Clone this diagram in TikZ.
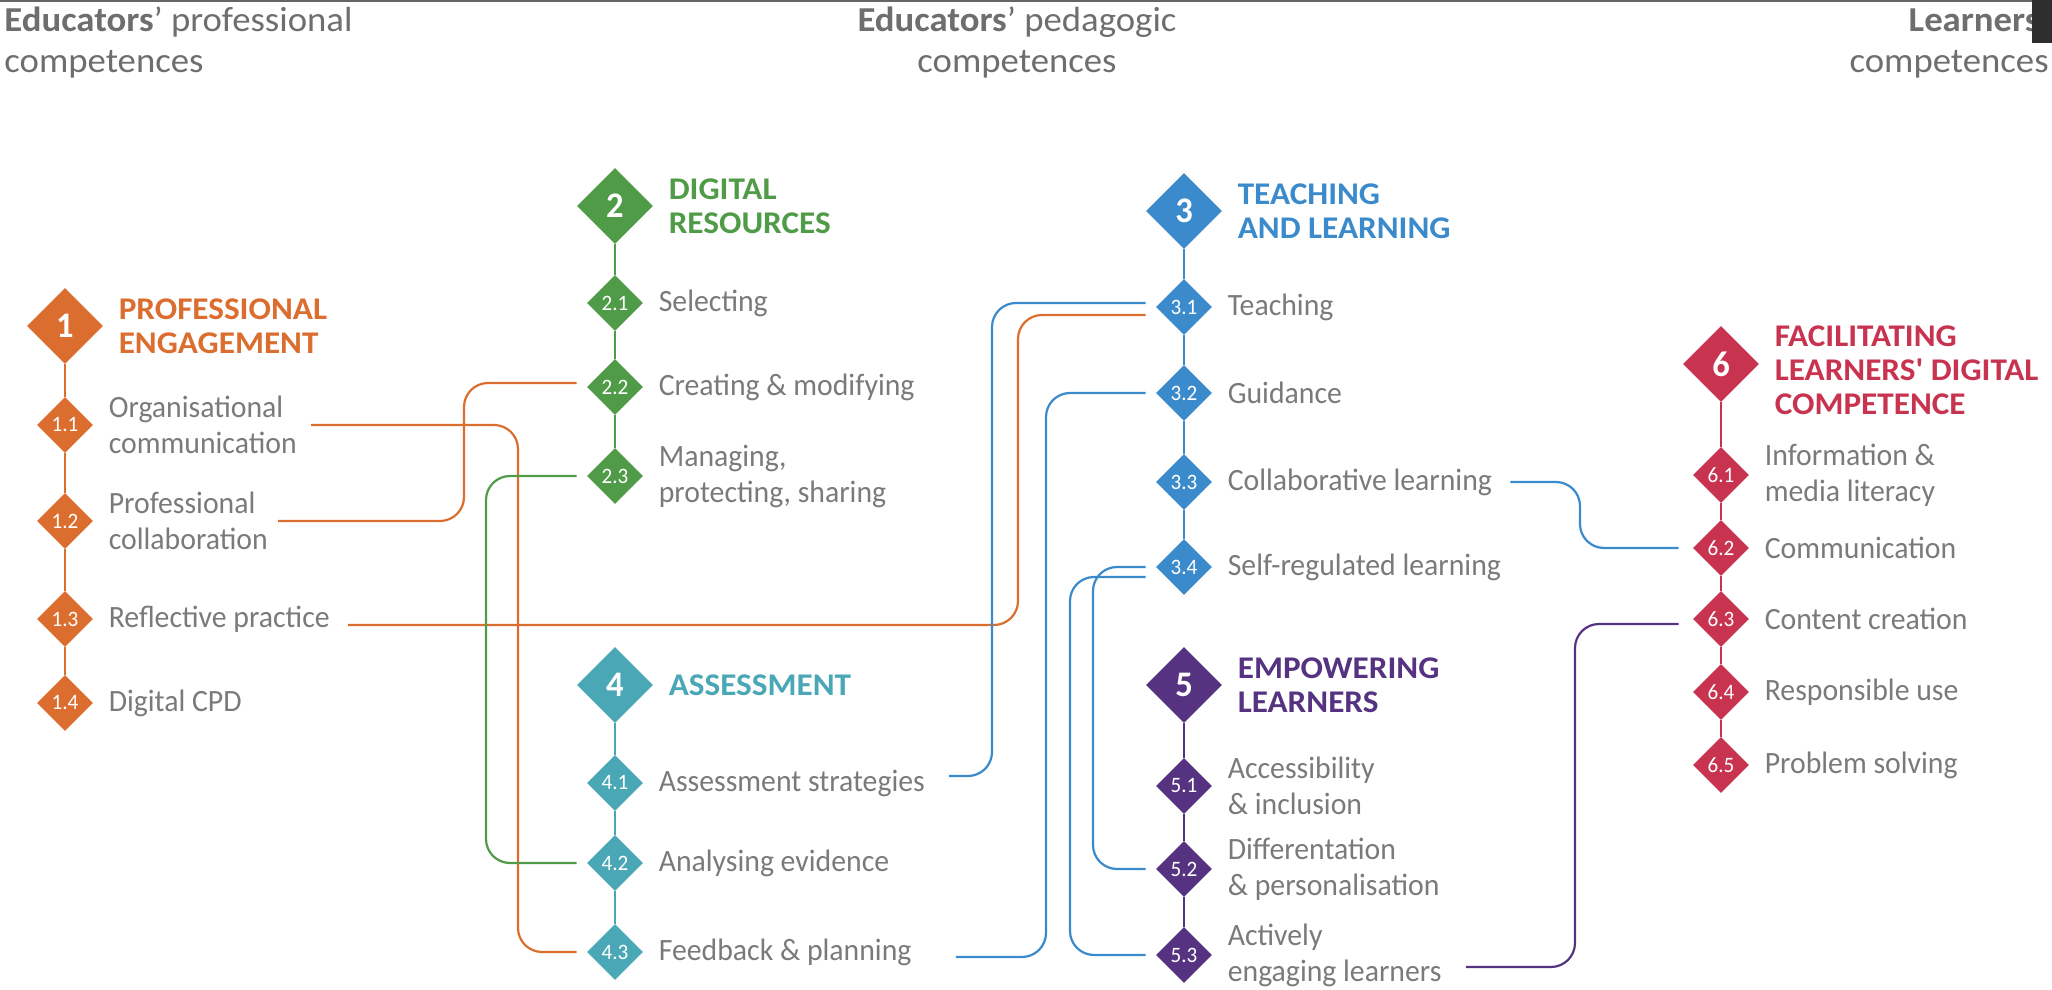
\documentclass[tikz,border=0pt]{standalone}
\usepackage{fontspec}
\setmainfont{Carlito}[FakeStretch=0.96]
\newfontfamily\widefont{Carlito}[FakeStretch=1.05]
\usetikzlibrary{positioning,shapes.geometric}
\definecolor{engage}{HTML}{DB6E2F}
\definecolor{resource}{HTML}{4F9B48}
\definecolor{teach}{HTML}{3B8ACB}
\definecolor{assess}{HTML}{4AA7B5}
\definecolor{empower}{HTML}{563381}
\definecolor{facil}{HTML}{C8334F}
\definecolor{txtgray}{HTML}{7A7A7A}
\definecolor{headgray}{HTML}{6E6E6E}
\def\colA{65}
\def\colB{615}
\def\colC{1184}
\def\colD{1721}

\begin{document}
\begin{tikzpicture}[x=0.5pt, y=-0.5pt, node distance=7.5pt]
    \tikzstyle{area}=[diamond, aspect=1, inner sep=0pt, minimum size=38pt, text=white, font=\fontsize{18}{18}\selectfont\bfseries]
    \tikzstyle{comp}=[diamond, aspect=1, inner sep=0pt, minimum size=28pt, text=white, font=\fontsize{11}{12}\selectfont]
    \tikzstyle{title}=[font=\widefont\fontsize{15.8}{17}\selectfont\bfseries, align=left, inner sep=0pt]
    \tikzstyle{item}=[font=\fontsize{15.5}{18}\selectfont, text=txtgray, align=left, inner sep=0pt]
    \tikzstyle{head}=[font=\widefont\fontsize{17.5}{20.5}\selectfont, text=headgray, inner sep=0pt]
    \tikzstyle{spine}=[line width=1.2pt]
    \tikzstyle{link}=[line width=1.1pt, rounded corners=12pt, shorten <=7pt, shorten >=5pt]

    \useasboundingbox (0,0) rectangle (2052,990);
    \draw[black!60, line width=0.6pt] (0,1) -- (2052,1);

    % Headings of the three groups
    \node[head, anchor=west, align=left] (H1) at (4,42) {\textbf{Educators}’ professional\\competences};
    \node[head, align=center] (H2) at (1017,42) {\textbf{Educators}’ pedagogic\\competences};
    \node[head, anchor=east, align=right] (H3) at (2049,42) {\textbf{Learners}’\\competences};
    \fill[black!82] (2032,0) rectangle (2052,43);

    % Area 1
    \node[area, fill=engage] (D1) at (\colA,326) {1};
    \node[title, text=engage, right=of D1] (T1) {PROFESSIONAL\\ENGAGEMENT};
    \foreach \i/\y/\txt in {1/425/{Organisational\\communication}, 2/521/{Professional\\collaboration}, 3/619/Reflective practice, 4/703/Digital CPD}{
        \node[comp, fill=engage] (D1\i) at (\colA,\y) {1.\i};
        \node[item, right=of D1\i] (L1\i) {\txt};
    }
    \foreach \s/\d in {1/11, 11/12, 12/13, 13/14}
        \path (D\s) edge[spine, draw=engage] (D\d);

    % Area 2
    \node[area, fill=resource] (D2) at (\colB,206) {2};
    \node[title, text=resource, right=of D2] (T2) {DIGITAL\\RESOURCES};
    \foreach \i/\y/\txt in {1/303/Selecting, 2/387/Creating \& modifying, 3/476/{Managing,\\protecting, sharing}}{
        \node[comp, fill=resource] (D2\i) at (\colB,\y) {2.\i};
        \node[item, right=of D2\i] (L2\i) {\txt};
    }
    \foreach \s/\d in {2/21, 21/22, 22/23}
        \path (D\s) edge[spine, draw=resource] (D\d);

    % Area 3
    \node[area, fill=teach] (D3) at (\colC,211) {3};
    \node[title, text=teach, right=of D3] (T3) {TEACHING\\AND LEARNING};
    \foreach \i/\y/\txt in {1/307/Teaching, 2/393/Guidance, 3/482/Collaborative learning, 4/567/Self-regulated learning}{
        \node[comp, fill=teach] (D3\i) at (\colC,\y) {3.\i};
        \node[item, right=of D3\i] (L3\i) {\txt};
    }
    \foreach \s/\d in {3/31, 31/32, 32/33, 33/34}
        \path (D\s) edge[spine, draw=teach] (D\d);

    % Area 4
    \node[area, fill=assess] (D4) at (\colB,685) {4};
    \node[title, text=assess, right=of D4] (T4) {ASSESSMENT};
    \foreach \i/\y/\txt in {1/783/Assessment strategies, 2/863/Analysing evidence, 3/952/Feedback \& planning}{
        \node[comp, fill=assess] (D4\i) at (\colB,\y) {4.\i};
        \node[item, right=of D4\i] (L4\i) {\txt};
    }
    \foreach \s/\d in {4/41, 41/42, 42/43}
        \path (D\s) edge[spine, draw=assess] (D\d);

    % Area 5
    \node[area, fill=empower] (D5) at (\colC,685) {5};
    \node[title, text=empower, right=of D5] (T5) {EMPOWERING\\LEARNERS};
    \foreach \i/\y/\txt in {1/786/{Accessibility\\\& inclusion}, 2/869/{Differentation\\\& personalisation}, 3/955/{Actively\\engaging learners}}{
        \node[comp, fill=empower] (D5\i) at (\colC,\y) {5.\i};
        \node[item, right=of D5\i] (L5\i) {\txt};
    }
    \foreach \s/\d in {5/51, 51/52, 52/53}
        \path (D\s) edge[spine, draw=empower] (D\d);

    % Area 6
    \node[area, fill=facil] (D6) at (\colD,364) {6};
    \node[title, text=facil, right=of D6, yshift=-3pt] (T6) {FACILITATING\\LEARNERS' DIGITAL\\COMPETENCE};
    \foreach \i/\y/\txt in {1/475/{Information \&\\media literacy}, 2/548/Communication, 3/619/Content creation, 4/692/Responsible use, 5/765/Problem solving}{
        \node[comp, fill=facil] (D6\i) at (\colD,\y) {6.\i};
        \node[item, right=of D6\i] (L6\i) {\txt};
    }
    \foreach \s/\d in {6/61, 61/62, 62/63, 63/64, 64/65}
        \path (D\s) edge[spine, draw=facil] (D\d);

    % Channels of the cross links
    \coordinate (chA) at (518,0);
    \coordinate (chB) at (464,0);
    \coordinate (chC) at (1018,0);
    \coordinate (chD) at (486,0);
    \coordinate (chE) at (992,0);
    \coordinate (chF) at (1046,0);
    \coordinate (chG) at (1093,0);
    \coordinate (chH) at (1070,0);
    \coordinate (chI) at (1580,0);
    \coordinate (chJ) at (1575,0);
    \coordinate (L13out) at ([yshift=-3pt]L13.east);
    \coordinate (L41out) at ([yshift=3.5pt]L41.east);
    \coordinate (L43out) at ([yshift=-2.5pt]L43.east);
    \coordinate (L53out) at ([yshift=-6pt]L53.east);
    \coordinate (D22in) at ([yshift=2pt]D22.west);
    \coordinate (D31in1) at ([yshift=2pt]D31.west);
    \coordinate (D31in2) at ([yshift=-4pt]D31.west);
    \coordinate (D34out) at ([yshift=-5pt]D34.west);
    \coordinate (D63in) at ([yshift=-2.5pt]D63.west);

    % Cross links
    \draw[link, draw=engage] (L11.east) -- (L11.east -| chA) |- (D43.west);
    \draw[link, draw=engage, shorten <=5pt] (L12.east) -- (L12.east -| chB) |- (D22in);
    \draw[link, draw=engage, shorten <=9pt] (L13out) -- (L13out -| chC) |- (D31in2);
    \draw[link, draw=resource, shorten <=5pt] (D23.west) -- (D23.west -| chD) |- (D42.west);
    \draw[link, draw=teach, shorten <=12pt] (L41out) -- (L41out -| chE) |- (D31in1);
    \draw[link, draw=teach, shorten <=22pt] (L43out) -- (L43out -| chF) |- (D32.west);
    \draw[link, draw=teach, shorten <=5pt] (D34.west) -- (D34.west -| chG) |- (D52.west);
    \draw[link, draw=teach, shorten <=5pt] (D34out) -- (D34out -| chH) |- (D53.west);
    \draw[link, draw=teach, shorten <=9pt, shorten >=7pt] (L33.east) -- (L33.east -| chI) |- (D62.west);
    \draw[link, draw=empower, shorten <=12pt, shorten >=7pt] (L53out) -- (L53out -| chJ) |- (D63in);
\end{tikzpicture}
\end{document}
